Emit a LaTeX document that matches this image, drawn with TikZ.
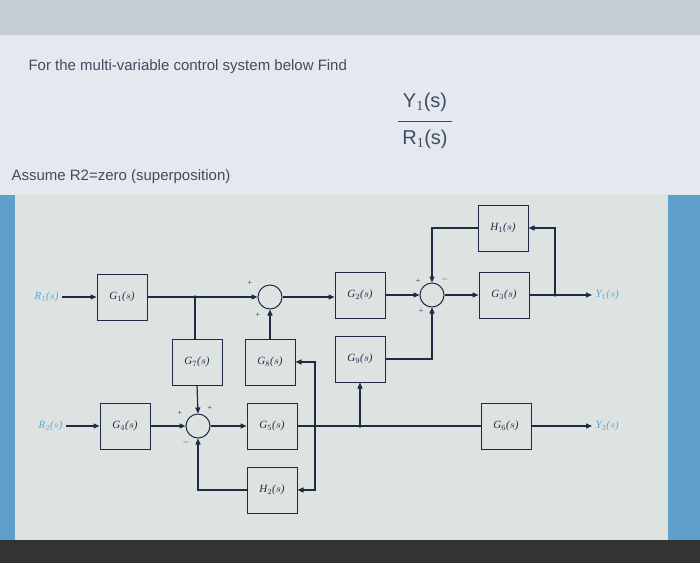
\documentclass[tikz,border=0pt]{standalone}
\usepackage{fontspec}
\setmainfont{Liberation Serif}
\newfontfamily\sans{Liberation Sans}
\usetikzlibrary{arrows.meta}
\definecolor{ln}{HTML}{1F2A44}
\definecolor{lb}{HTML}{5AA8D8}
\definecolor{bg}{HTML}{E4E9EF}
\definecolor{pn}{HTML}{DDE3E1}
\definecolor{st}{HTML}{5E9FCC}
\begin{document}
\begin{tikzpicture}[x=1pt,y=-1pt,
 blk/.style={draw=ln,line width=1pt,fill=pn,minimum width=50pt,minimum height=46pt,font=\itshape\fontsize{11}{12}\selectfont,text=ln,inner sep=0pt},
 sumj/.style={circle,draw=ln,line width=1pt,fill=pn,minimum size=24pt,inner sep=0pt},
 con/.style={draw=ln,line width=1.2pt},
 arr/.style={con,-{Triangle[length=6pt,width=5pt]}},
 sg/.style={font=\footnotesize,text=ln},
 lab/.style={font=\itshape\fontsize{11}{12}\selectfont,text=lb},
 dot/.style={circle,fill=ln,inner sep=1.3pt}]
\fill[bg] (0,0) rectangle (700,563);
\fill[bg!85!ln] (0,0) rectangle (700,35);
\fill[pn] (15,195) rectangle (668,540);
\fill[st] (0,195) rectangle (15,540);
\fill[st] (668,195) rectangle (700,540);
\fill[black!80] (0,540) rectangle (700,563);
% texts
\node[anchor=west,font=\sans\fontsize{15}{18}\selectfont,text=ln!85] (t1) at (25,67) {For the multi-variable control system below Find};
\node[font=\sans\fontsize{20}{22}\selectfont,text=ln!85,inner sep=0pt] (Yn) at (425,102) {Y$_{\mathrm 1}$(s)};
\node[font=\sans\fontsize{20}{22}\selectfont,text=ln!85,inner sep=0pt] (Rd) at (425,139) {R$_{\mathrm 1}$(s)};
\draw[ln!85,line width=1pt] (398,121) -- (452,121);
\node[anchor=west,font=\sans\fontsize{15}{18}\selectfont,text=ln!85] (t2) at (8,177) {Assume R2=zero (superposition)};
% blocks
\node[blk] (G1) at (122,297) {G$_1$($s$)};
\node[blk] (G2) at (360,295) {G$_2$($s$)};
\node[blk] (G3) at (504,295) {G$_3$($s$)};
\node[blk] (H1) at (503,228) {H$_1$($s$)};
\node[blk] (G7) at (197,362) {G$_7$($s$)};
\node[blk] (G8) at (270,362) {G$_8$($s$)};
\node[blk] (G9) at (360,359) {G$_9$($s$)};
\node[blk] (G4) at (125,426) {G$_4$($s$)};
\node[blk] (G5) at (272,426) {G$_5$($s$)};
\node[blk] (G6) at (506,426) {G$_6$($s$)};
\node[blk] (H2) at (272,490) {H$_2$($s$)};
\node[sumj] (S1) at (270,297) {};
\node[sumj] (S2) at (432,295) {};
\node[sumj] (S3) at (198,426) {};
\node[lab,anchor=east] (R1) at (62,297) {R$_1$($s$)};
\node[lab,anchor=east] (R2) at (66,426) {R$_2$($s$)};
\node[lab,anchor=west] (Y1) at (592,295) {Y$_1$($s$)};
\node[lab,anchor=west] (Y2) at (592,426) {Y$_2$($s$)};
\coordinate (J1) at (195,297);
\coordinate (J2) at (555,295);
\coordinate (J3) at (315,426);
\coordinate (J4) at (360,426);
\node[dot] at (J1) {};\node[dot] at (J2) {};\node[dot] at (J3) {};\node[dot] at (J4) {};
% connectors
\draw[arr] (R1) -- (G1);
\draw[arr] (G1) -- (S1);
\draw[con] (J1) -- (J1|-G7.north);
\draw[arr] (S1) -- (S1-|G2.west);
\draw[arr] (G2) -- (S2);
\draw[arr] (S2) -- (G3);
\draw[arr] (G3.east) -- (Y1);
\draw[arr] (J2) |- (H1.east);
\draw[arr] (H1.west) -| (S2.north);
\draw[arr] (G9.east) -| (S2.south);
\draw[arr] (G8.north) -- (S1.south);
\draw[arr] (G7.south) -- (S3.north);
\draw[arr] (R2) -- (G4);
\draw[arr] (G4) -- (S3);
\draw[arr] (S3) -- (G5);
\draw[con] (G5.east) -- (G6.west);
\draw[arr] (G6.east) -- (Y2);
\draw[arr] (J3) |- (G8.east);
\draw[arr] (J3) |- (H2.east);
\draw[arr] (H2.west) -| (S3.south);
\draw[arr] (J4) -- (G9.south);
% signs
\node[sg] at (250,283) {+};
\node[sg] at (258,315) {+};
\node[sg] at (418,281) {+};
\node[sg] at (445,279) {$-$};
\node[sg] at (421,311) {+};
\node[sg] at (180,413) {+};
\node[sg] at (210,408) {+};
\node[sg] at (186,442) {$-$};
\end{tikzpicture}
\end{document}
